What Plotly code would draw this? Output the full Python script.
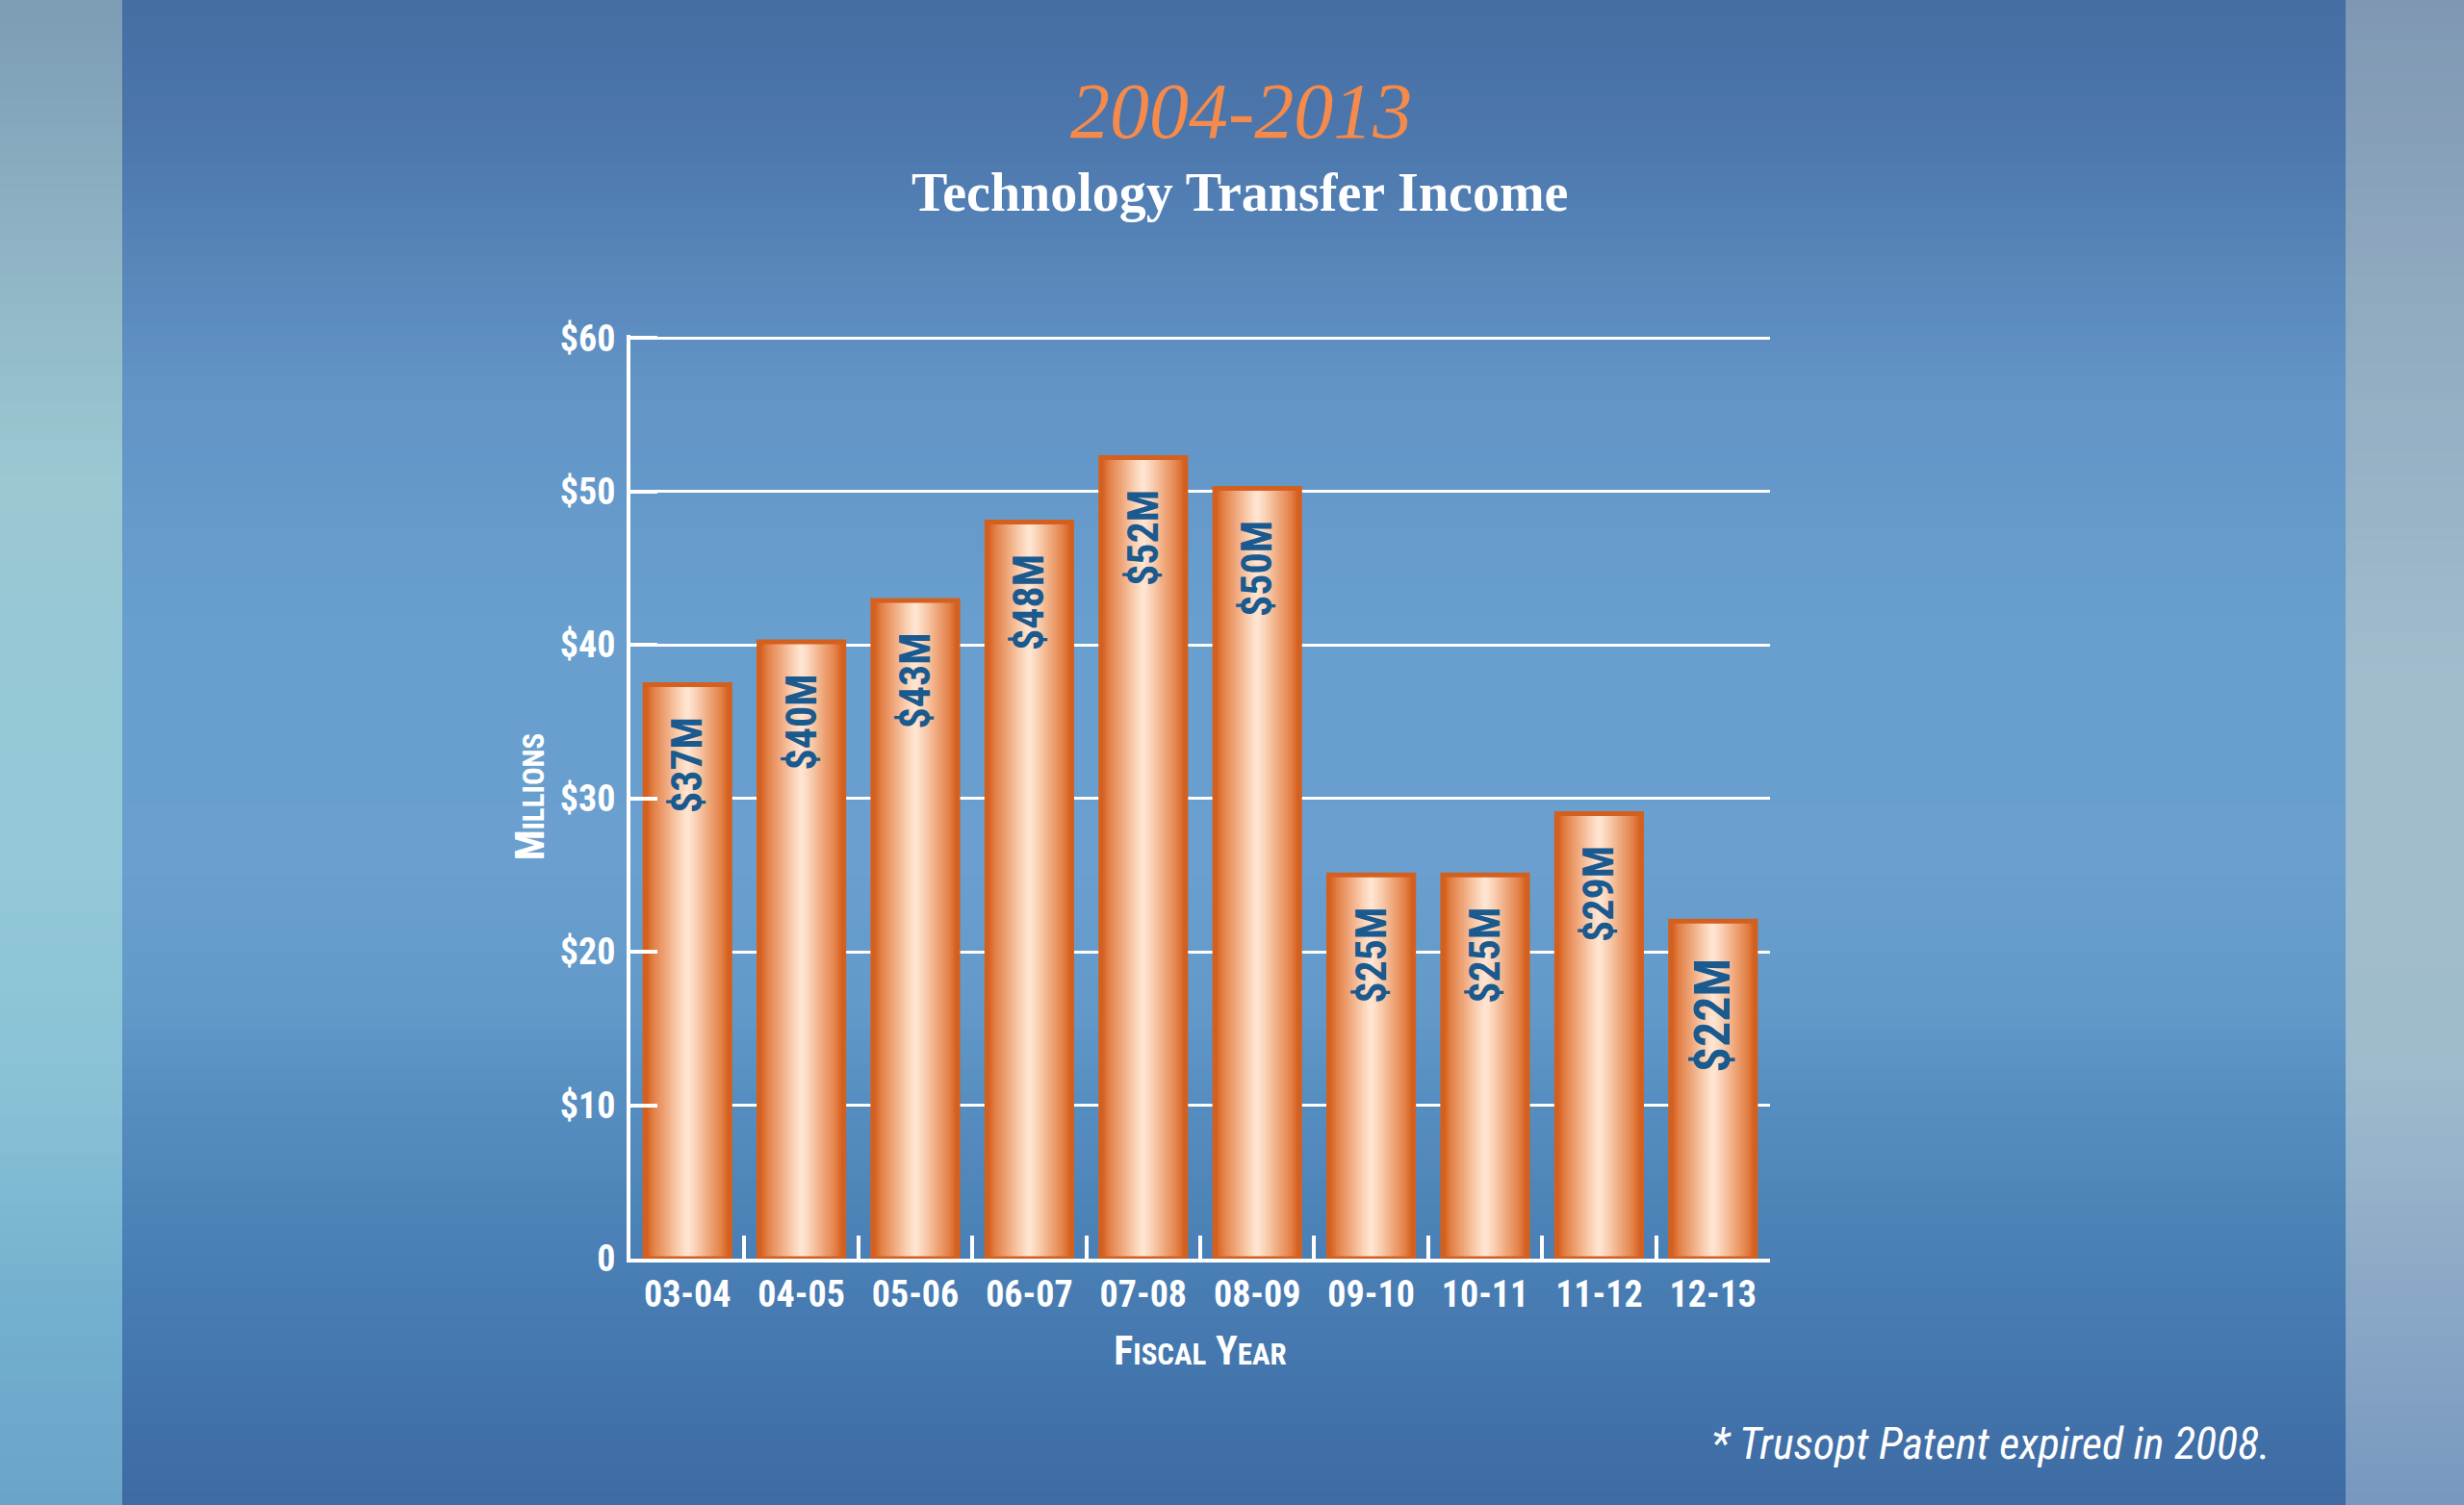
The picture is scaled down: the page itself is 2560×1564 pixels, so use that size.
import plotly.graph_objects as go

# Technology transfer income by fiscal year, in millions of dollars
fiscal_years = ['03-04', '04-05', '05-06', '06-07', '07-08',
                '08-09', '09-10', '10-11', '11-12', '12-13']
income_millions = [37.4, 40.2, 42.9, 48.0, 52.2, 50.2, 25.0, 25.0, 29.0, 22.0]
bar_labels = ['$37M', '$40M', '$43M', '$48M', '$52M',
              '$50M', '$25M', '$25M', '$29M', '$22M']

y_tick_values = [0, 10, 20, 30, 40, 50, 60]
y_tick_text = ['0', '$10', '$20', '$30', '$40', '$50', '$60']

W, H = 2560, 1564
ML, MR, MT, MB = 655, 721, 348, 256
NARROW = 'Roboto Condensed, Roboto, sans-serif'


def px(x):
    return (x - ML) / (W - ML - MR)


def py(y):
    return (H - MB - y) / (H - MT - MB)


def hex2rgb(h):
    h = h.lstrip('#')
    return [int(h[i:i + 2], 16) for i in (0, 2, 4)]


def lerp_color(stops, t):
    for (t0, c0), (t1, c1) in zip(stops[:-1], stops[1:]):
        if t0 <= t <= t1:
            f = 0 if t1 == t0 else (t - t0) / (t1 - t0)
            a, b = hex2rgb(c0), hex2rgb(c1)
            return 'rgb(%d,%d,%d)' % tuple(round(a[i] + (b[i] - a[i]) * f) for i in range(3))
    return stops[-1][1]


# background: blue panel with lighter strips on both sides
panel_stops = [(0, '#456ea3'), (150, '#4d78ad'), (400, '#6294c6'), (650, '#689fcf'),
               (900, '#6a9fcf'), (1050, '#6299c9'), (1150, '#568dc0'), (1300, '#4a80b5'),
               (1450, '#4274ab'), (1564, '#3e6aa3')]
left_stops = [(0, '#7c9cb4'), (250, '#8fb3c4'), (500, '#9ac8d3'), (900, '#93c9d8'),
              (1150, '#88c0d5'), (1350, '#74b0cf'), (1564, '#6aa4c8')]
right_stops = [(0, '#7f97b3'), (300, '#8fa9bf'), (700, '#a1bccd'), (1100, '#9fbccd'),
               (1350, '#8aa8c6'), (1564, '#7898c0')]

shapes = []
n_bands = 120
for x0, x1, stops in [(0, 127, left_stops), (127, 2437, panel_stops), (2437, W, right_stops)]:
    for i in range(n_bands):
        y0 = H * i / n_bands
        y1 = H * (i + 1) / n_bands
        shapes.append(dict(type='rect', xref='paper', yref='paper', layer='below',
                           x0=px(x0), x1=px(x1), y0=py(y0), y1=py(y1 + 1),
                           fillcolor=lerp_color(stops, (y0 + y1) / 2), line_width=0))

# cylinder look: stacked overlay bars, narrower and lighter towards the centre
bar_width = 0.745
bar_stops = [(0, '#d45e1c'), (0.2, '#e4834b'), (0.5, '#efa87c'), (0.8, '#f9cfb1'), (1.0, '#fee4d1')]
n_layers = 18
traces = []
for k in range(n_layers):
    traces.append(go.Bar(
        x=fiscal_years, y=income_millions,
        width=bar_width * (1 - k / n_layers),
        marker=dict(color=lerp_color(bar_stops, k / (n_layers - 1)), line_width=0),
        hoverinfo='skip', showlegend=False
    ))

label_sizes = [44] * (len(bar_labels) - 1) + [52]
traces.append(go.Bar(
    x=fiscal_years, y=income_millions, width=bar_width,
    text=[t + '\u00a0\u00a0\u00a0' for t in bar_labels],
    textposition='inside', insidetextanchor='end', textangle=-90,
    textfont=dict(family=NARROW, size=label_sizes, color='#1a5a8e', weight='bold'),
    marker=dict(color='rgba(0,0,0,0)', line=dict(color='#d4601f', width=5)),
    hoverinfo='skip', showlegend=False
))

fig = go.Figure(data=traces)

small = "<span style='font-size:31px'>%s</span>"
fig.update_layout(
    template='none',
    width=W, height=H,
    margin=dict(l=ML, r=MR, t=MT, b=MB, pad=0),
    barmode='overlay',
    paper_bgcolor='#5a8cc0',
    plot_bgcolor='rgba(0,0,0,0)',
    shapes=shapes,
    xaxis=dict(
        type='category', range=[-0.5, 9.5], automargin=False,
        showline=True, linecolor='white', linewidth=4,
        ticks='inside', tickson='boundaries', ticklen=24, tickwidth=4, tickcolor='white',
        tickfont=dict(family=NARROW, size=38, color='white', weight='bold'),
        tickangle=0, ticklabelstandoff=0, showgrid=False, zeroline=False,
        title=dict(text='F' + small % 'ISCAL' + ' Y' + small % 'EAR', standoff=24,
                   font=dict(family=NARROW, size=42, color='white', weight='bold'))
    ),
    yaxis=dict(
        range=[0, 60.2], automargin=False,
        tickvals=y_tick_values, ticktext=y_tick_text,
        showline=True, linecolor='white', linewidth=4,
        ticks='inside', ticklen=28, tickwidth=4, tickcolor='white',
        tickfont=dict(family=NARROW, size=38, color='white', weight='bold'),
        ticklabelstandoff=4,
        showgrid=True, gridcolor='white', gridwidth=3, zeroline=False,
        title=dict(text='M' + small % 'ILLIONS', standoff=4,
                   font=dict(family=NARROW, size=42, color='white', weight='bold'))
    ),
    annotations=[
        dict(text='2004-2013', xref='paper', yref='paper', x=px(1289), y=py(116),
             xanchor='center', yanchor='middle', showarrow=False,
             font=dict(family='Liberation Serif, DejaVu Serif, serif', size=82,
                       color='#f58a4b', style='italic')),
        dict(text='Technology Transfer Income', xref='paper', yref='paper',
             x=px(1288), y=py(200), xanchor='center', yanchor='middle', showarrow=False,
             font=dict(family='Liberation Serif, DejaVu Serif, serif', size=56,
                       color='white', weight='bold')),
        dict(text='* Trusopt Patent expired in 2008.', xref='paper', yref='paper',
             x=px(2361), y=py(1500), xanchor='right', yanchor='middle', showarrow=False,
             font=dict(family=NARROW, size=46, color='white', style='italic')),
    ]
)

fig.write_html('out.html', config={'displayModeBar': False},
               post_script="document.body.style.margin='0';")
